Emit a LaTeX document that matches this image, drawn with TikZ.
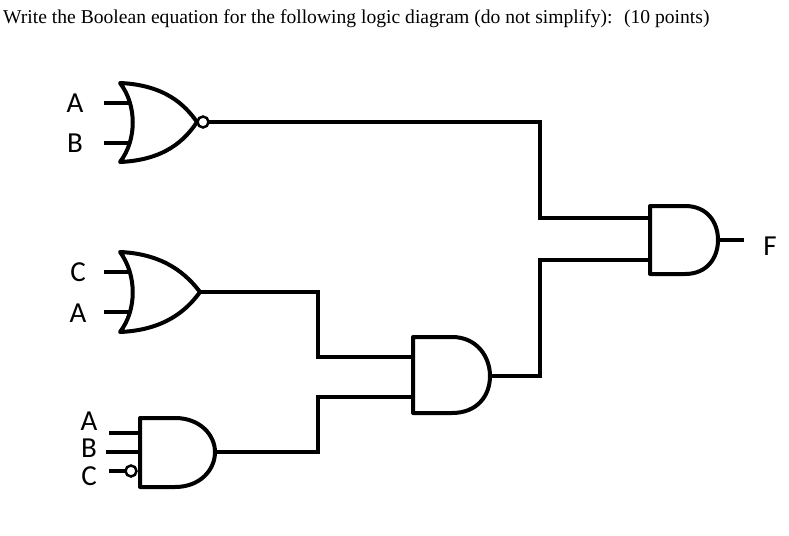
\documentclass[tikz,border=0pt]{standalone}
\usepackage{fontspec}
\setmainfont{Liberation Serif}
\newfontfamily\lblfont{Carlito}
\begin{document}
\begin{tikzpicture}[x=1pt,y=-1pt,
  wire/.style={line width=3.5pt,line cap=rect},
  gate/.style={line width=4pt,line join=round,fill=white},
  lbl/.style={font=\lblfont\fontsize{29}{29}\selectfont,inner sep=0pt},
  bub/.style={line width=2.5pt,fill=white}]
\useasboundingbox (0,0) rectangle (789,535);
\node[anchor=west,inner sep=0pt,font=\fontsize{19.6}{19.6}\selectfont] (title) at (3,19) {Write the Boolean equation for the following logic diagram (do not simplify): \ (10 points)};
% coordinates
\coordinate (g1o) at (208,122);
\coordinate (g2o) at (200,292);
\coordinate (g3o) at (215,452);
\coordinate (g4a) at (413,357); \coordinate (g4b) at (413,397); \coordinate (g4o) at (490,376);
\coordinate (g5a) at (650,218); \coordinate (g5b) at (650,260); \coordinate (g5o) at (718,240);
\coordinate (fout) at (742,240);
% wires
\draw[wire] (g1o) -| (540,218) -- (g5a);
\draw[wire] (g4o) -| (540,260) -- (g5b);
\draw[wire] (g2o) -| (318,357) -- (g4a);
\draw[wire] (g3o) -| (318,397) -- (g4b);
\draw[wire] (g5o) -- (fout);
% input stubs
\draw[wire] (106,103) -- (128,103);
\draw[wire] (106,143) -- (128,143);
\draw[wire] (106,272) -- (128,272);
\draw[wire] (106,312) -- (128,312);
\draw[wire] (111,433) -- (140,433);
\draw[wire] (108,452) -- (140,452);
\draw[wire] (111,471) -- (125,471);
% gate 1 NOR
\draw[gate] (120,83) .. controls (165,85) and (185,105) .. (197,122)
  .. controls (185,140) and (165,160) .. (120,162)
  .. controls (137,140) and (137,105) .. cycle;
\draw[bub] (203,122) circle (5.5);
% gate 2 OR
\draw[gate] (120,252) .. controls (165,254) and (187,275) .. (200,292)
  .. controls (187,310) and (165,330) .. (120,332)
  .. controls (137,310) and (137,275) .. cycle;
% gate 3 AND
\draw[gate] (140,418) -- (175,418) .. controls (200,418) and (215,435) .. (215,452)
  .. controls (215,470) and (200,487) .. (175,487) -- (140,487) -- cycle;
\draw[bub] (131,471) circle (5.5);
% gate 4 AND
\draw[gate] (413,337) -- (452,337) .. controls (477,337) and (490,357) .. (490,376)
  .. controls (490,396) and (477,413) .. (452,413) -- (413,413) -- cycle;
% gate 5 AND
\draw[gate] (650,206) -- (685,206) .. controls (707,206) and (718,222) .. (718,240)
  .. controls (718,258) and (707,274) .. (685,274) -- (650,274) -- cycle;
% labels
\node[lbl] (la1) at (75,103) {A};
\node[lbl] (lb1) at (75,143) {B};
\node[lbl] (lc2) at (78,272) {C};
\node[lbl] (la2) at (78,313) {A};
\node[lbl] (la3) at (89,421) {A};
\node[lbl] (lb3) at (89,448) {B};
\node[lbl] (lc3) at (89,476) {C};
\node[lbl] (lf) at (770,246) {F};
\end{tikzpicture}
\end{document}
